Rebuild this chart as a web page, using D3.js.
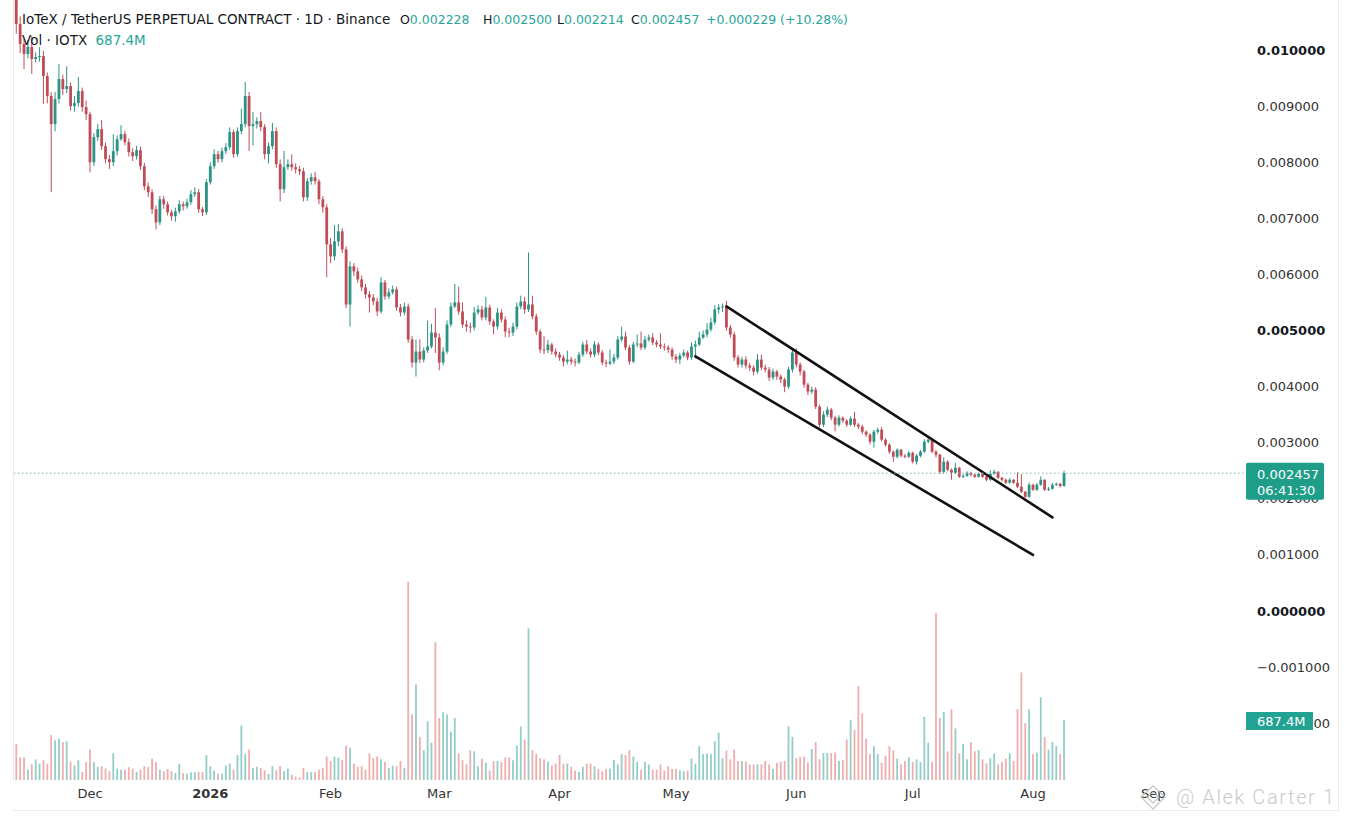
<!DOCTYPE html>
<html>
<head>
<meta charset="utf-8">
<script src="https://cdn.jsdelivr.net/npm/d3@7"></script>
<style>
  html, body {margin:0; padding:0; background:#fff;}
  svg {display:block; font-family:"DejaVu Sans", sans-serif;}
</style>
</head>
<body>
<svg width="1351" height="823"></svg>
<script>
"use strict";

//daily candles starting 2025-11-12, prices in millionths of a USDT
const firstDay = Date.UTC(2025, 10, 12);
const firstOpen = 11100;

const closes = [
  10464,10107,9929,10054,9839,9875,9893,9536,9179,8679,
  9125,9482,9304,9357,9000,9054,9268,8982,8857,8000,
  8446,8589,8286,8054,8000,8196,8411,8500,8357,8179,
  8107,8214,7929,7571,7464,7161,6929,7339,7250,7107,
  7036,7125,7250,7214,7286,7429,7464,7161,7107,7643,
  7929,8143,8054,8196,8268,8536,8143,8554,8679,9179,
  8643,8679,8732,8625,8143,8286,8554,7964,7518,7911,
  7964,7911,7875,7839,7375,7661,7732,7661,7339,7196,
  6536,6321,6589,6768,6446,5464,6143,6054,5911,5768,
  5643,5589,5518,5339,5857,5607,5679,5732,5411,5321,
  5429,4839,4429,4625,4482,4643,4714,4964,4875,4429,
  4625,5107,5429,5500,5339,5107,5071,5054,5321,5375,
  5232,5411,5161,5071,5321,5196,4982,4964,5071,5429,
  5518,5375,5464,5250,4982,4661,4650,4750,4625,4571,
  4518,4446,4482,4446,4429,4571,4750,4625,4571,4750,
  4607,4429,4411,4446,4518,4839,4893,4696,4446,4750,
  4768,4696,4839,4875,4786,4750,4714,4696,4661,4536,
  4482,4554,4607,4518,4714,4750,4875,4929,5018,5143,
  5375,5411,5429,5054,4929,4518,4393,4482,4375,4339,
  4268,4482,4339,4304,4161,4268,4179,4125,4000,4304,
  4607,4393,4268,4036,3911,3946,3643,3321,3500,3589,
  3446,3321,3446,3393,3321,3429,3321,3286,3196,3143,
  3018,3196,3232,3054,2964,2839,2750,2875,2768,2750,
  2821,2661,2768,2839,3018,3054,2839,2786,2482,2661,
  2518,2464,2554,2393,2411,2464,2429,2393,2446,2393,
  2339,2446,2482,2375,2339,2286,2339,2286,2214,2125,
  2036,2250,2161,2250,2339,2161,2179,2250,2268,2228,
  2457
];

const highs = [
  11300,10600,10200,10180,10250,9960,10050,9980,9600,9250,
  9250,9750,9560,9710,9420,9180,9520,9330,9100,8900,
  8520,8680,8750,8350,8130,8500,8480,8660,8560,8420,
  8250,8290,8280,7990,7640,7520,7230,7400,7400,7300,
  7150,7190,7320,7300,7350,7500,7550,7520,7200,7700,
  8000,8230,8200,8260,8340,8620,8580,8620,8950,9430,
  9250,8890,8800,8890,8680,8350,8700,8620,8050,8200,
  8050,8140,7980,7930,7900,7720,7800,7830,7700,7400,
  7250,6650,6880,6900,6820,6500,6230,6200,6120,5980,
  5830,5700,5650,5580,5950,5900,5750,5800,5780,5470,
  5500,5480,4900,4840,4840,4700,5180,5120,5400,4950,
  4700,5180,5500,5830,5780,5500,5180,5140,5420,5450,
  5440,5600,5460,5200,5400,5380,5250,5050,5140,5500,
  5620,5600,6390,5620,5300,5020,4900,4830,4780,4680,
  4620,4560,4640,4530,4500,4620,4800,4830,4680,4810,
  4790,4650,4480,4660,4580,4900,5070,4980,4740,4800,
  4930,4980,4900,4930,4950,4830,4950,4770,4740,4700,
  4580,4600,4660,4640,4790,4820,4980,5000,5130,5230,
  5450,5470,5480,5530,5100,4980,4560,4530,4540,4420,
  4380,4580,4570,4390,4350,4320,4300,4220,4160,4350,
  4680,4680,4430,4300,4070,4000,3990,3680,3560,3640,
  3620,3480,3490,3470,3420,3470,3550,3350,3320,3220,
  3170,3230,3270,3280,3080,2990,2860,2900,2890,2800,
  2850,2840,2800,2870,3060,3110,3070,2870,2800,2740,
  2690,2540,2640,2570,2440,2490,2480,2450,2470,2460,
  2410,2510,2520,2490,2390,2360,2370,2350,2470,2440,
  2140,2290,2270,2280,2400,2350,2210,2280,2290,2285,
  2500
];

const lows = [
  10290,9950,9660,9850,9570,9780,9790,9040,9050,7465,
  8550,9050,9200,9230,8920,8900,8990,8900,8750,7820,
  7930,8380,8220,7980,7880,7930,8120,8380,8300,8100,
  8020,8050,7860,7500,7380,7080,6800,6880,7170,7050,
  6960,6940,7080,7140,7170,7240,7380,7100,7040,7060,
  7600,7880,7990,8000,8150,8220,8080,8100,8500,8620,
  8200,8300,8600,8550,8050,7980,8230,7900,7300,7450,
  7860,7850,7800,7770,7300,7310,7600,7600,7250,7100,
  5950,6200,6250,6500,6380,5400,5070,5970,5850,5700,
  5570,5320,5450,5260,5300,5550,5560,5640,5350,5250,
  5270,4780,4340,4180,4420,4430,4600,4680,4600,4290,
  4380,4580,5060,5400,5280,5050,4980,4960,5000,5280,
  5180,5180,5100,4930,5020,5140,4880,4880,4900,5020,
  5380,5300,5330,5200,4920,4600,4580,4600,4570,4520,
  4460,4360,4400,4390,4360,4400,4530,4580,4520,4530,
  4560,4380,4350,4380,4400,4480,4800,4650,4390,4420,
  4700,4650,4660,4800,4740,4700,4670,4640,4600,4480,
  4420,4400,4520,4470,4480,4500,4720,4850,4880,4980,
  5100,5300,5330,5000,4870,4460,4340,4340,4320,4280,
  4200,4230,4290,4250,4100,4120,4120,4060,3900,3960,
  4250,4340,4200,3980,3850,3870,3600,3270,3280,3460,
  3400,3200,3290,3350,3280,3300,3280,3240,3150,3100,
  2970,2910,3160,3020,2930,2800,2660,2720,2740,2720,
  2730,2630,2610,2740,2820,2990,2810,2740,2440,2450,
  2490,2340,2440,2370,2370,2390,2400,2370,2380,2370,
  2310,2320,2430,2350,2310,2260,2270,2260,2190,2100,
  2010,2020,2140,2140,2230,2140,2140,2160,2230,2200,
  2214
];

//volume in millions of IOTX
const volumes = [
  415,258,258,119,179,237,187,226,187,514,
  455,474,435,443,210,166,226,92,206,348,
  206,151,159,131,100,308,131,119,119,147,
  131,92,119,159,151,245,206,116,100,127,
  100,80,187,80,72,88,88,92,92,285,
  159,108,72,72,166,187,119,285,624,297,
  348,139,151,139,111,68,159,111,159,100,
  131,60,40,30,139,92,92,92,119,139,
  269,218,269,258,230,395,368,187,151,159,
  119,305,250,269,237,206,139,166,159,218,
  139,2270,751,1094,494,344,672,427,1579,711,
  778,751,553,711,305,226,179,344,329,159,
  245,198,108,218,218,206,258,258,226,395,
  613,463,1737,344,300,250,237,210,166,187,
  289,187,190,151,108,92,151,187,187,159,
  127,100,127,131,230,179,297,285,344,269,
  206,119,210,179,119,119,179,108,159,127,
  127,108,100,108,245,187,388,297,305,297,
  443,542,250,337,237,348,218,218,210,179,
  179,179,179,218,179,127,198,210,218,613,
  494,250,265,269,198,355,435,237,308,308,
  308,315,218,230,463,684,573,1078,763,474,
  297,388,297,198,277,388,337,245,179,218,
  258,206,237,206,723,427,206,1915,711,778,
  329,810,592,305,415,237,435,329,344,237,
  190,250,305,179,206,245,305,218,810,1232,
  652,810,297,315,948,494,348,435,388,297,
  687.4
];

//axis labels
const monthDates = ["2025-12-01","2026-01-01","2026-02-01","2026-03-01","2026-04-01","2026-05-01","2026-06-01","2026-07-01","2026-08-01","2026-09-01"];
const monthLabels = ["Dec","2026","Feb","Mar","Apr","May","Jun","Jul","Aug","Sep"];
const priceTicks = [0.010,0.009,0.008,0.007,0.006,0.005,0.004,0.003,0.002,0.001,0,-0.001,-0.002];
const boldTicks = [0.010,0.005,0];

//hand drawn descending channel [date, price]
const channelUpper = [["2026-05-14",0.00543],["2026-08-06",0.00167]];
const channelLower = [["2026-05-06",0.00454],["2026-08-01",0.00100]];

const countdown = "06:41:30";

//colours
const upColor = "#2a9383", downColor = "#bf4d58";
const upVol = "#93cdc7", downVol = "#eeaeae";
const teal = "#26a69a";

var svg = d3.select("svg");
var fmt = d3.format(".6f");

var bars = closes.map(function(c, i) {
    return {
        date: d3.utcDay.offset(new Date(firstDay), i),
        open: (i ? closes[i - 1] : firstOpen) / 1e6,
        high: highs[i] / 1e6,
        low: lows[i] / 1e6,
        close: c / 1e6,
        vol: volumes[i]
    };
});
var last = bars[bars.length - 1];

//scales
var x = d3.scaleUtc()
    .domain([new Date("2025-12-01"), new Date("2026-08-01")])
    .range([90, 1033]);
var y = d3.scaleLinear().domain([0, 0.010]).range([611, 50]);
var yVol = d3.scaleLinear().domain([0, 687.4]).range([780, 720]);

//frame lines
svg.append("line").attr("x1", 13.5).attr("x2", 13.5).attr("y1", 0).attr("y2", 780)
    .attr("stroke", "#e8e8e8");
svg.append("line").attr("x1", 1338.5).attr("x2", 1338.5).attr("y1", 0).attr("y2", 811)
    .attr("stroke", "#ececec");
svg.append("line").attr("x1", 13).attr("x2", 1338).attr("y1", 810.5).attr("y2", 810.5)
    .attr("stroke", "#ececec");

svg.append("clipPath").attr("id", "plot")
    .append("rect").attr("x", 14).attr("y", 0).attr("width", 1226).attr("height", 781);

var plot = svg.append("g").attr("clip-path", "url(#plot)");

//volume bars
plot.append("g").selectAll("rect").data(bars).join("rect")
    .attr("x", d => x(d.date) - 0.9)
    .attr("width", 1.8)
    .attr("y", d => yVol(d.vol))
    .attr("height", d => yVol(0) - yVol(d.vol))
    .attr("fill", d => d.close >= d.open ? upVol : downVol);

//candles
var candle = plot.append("g").selectAll("g").data(bars).join("g");
candle.append("line")
    .attr("x1", d => x(d.date)).attr("x2", d => x(d.date))
    .attr("y1", d => y(d.high)).attr("y2", d => y(d.low))
    .attr("stroke", d => d.close >= d.open ? upColor : downColor)
    .attr("stroke-width", 1);
candle.append("rect")
    .attr("x", d => x(d.date) - 1.4)
    .attr("width", 2.8)
    .attr("y", d => y(Math.max(d.open, d.close)))
    .attr("height", d => Math.max(1, Math.abs(y(d.open) - y(d.close))))
    .attr("fill", d => d.close >= d.open ? upColor : downColor);

//channel lines
[channelUpper, channelLower].forEach(function(pts) {
    plot.append("line")
        .attr("x1", x(new Date(pts[0][0]))).attr("y1", y(pts[0][1]))
        .attr("x2", x(new Date(pts[1][0]))).attr("y2", y(pts[1][1]))
        .attr("stroke", "#111").attr("stroke-width", 2.6).attr("stroke-linecap", "round");
});

//last price dotted line
svg.append("line")
    .attr("x1", 14).attr("x2", 1246)
    .attr("y1", y(last.close)).attr("y2", y(last.close))
    .attr("stroke", "#7fb8b0").attr("stroke-width", 1).attr("stroke-dasharray", "1.5,2.5");

//price axis on the right
svg.append("g").selectAll("text").data(priceTicks).join("text")
    .attr("x", 1257)
    .attr("y", d => y(d) + 4.5)
    .attr("font-size", 13)
    .attr("font-weight", d => boldTicks.includes(d) ? "bold" : "normal")
    .attr("fill", d => boldTicks.includes(d) ? "#131722" : "#333")
    .text(d => fmt(d));

//time axis
svg.append("g").selectAll("text").data(monthDates).join("text")
    .attr("x", d => x(new Date(d)))
    .attr("y", 798)
    .attr("text-anchor", "middle")
    .attr("font-size", 13)
    .attr("font-weight", (d, i) => monthLabels[i] == "2026" ? "bold" : "normal")
    .attr("fill", "#333")
    .text((d, i) => monthLabels[i]);

//last price tag
var ly = y(last.close);
svg.append("rect").attr("x", 1246).attr("y", ly - 10.5).attr("width", 78).attr("height", 37)
    .attr("rx", 2).attr("fill", "#1e9e89");
svg.append("text").attr("x", 1257).attr("y", ly + 6).attr("font-size", 13).attr("fill", "#fff")
    .text(fmt(last.close));
svg.append("text").attr("x", 1257).attr("y", ly + 22).attr("font-size", 13).attr("fill", "#fff")
    .text(countdown);

//volume tag
var vy = yVol(last.vol);
svg.append("rect").attr("x", 1246).attr("y", vy - 8).attr("width", 67).attr("height", 18)
    .attr("fill", "#22a293");
svg.append("text").attr("x", 1257).attr("y", vy + 6).attr("font-size", 13).attr("fill", "#fff")
    .text(last.vol + "M");

//legend
var legend = svg.append("g").attr("font-size", 12.5).attr("fill", "#131722");
legend.append("text").attr("x", 22).attr("y", 24).attr("font-size", 13.5)
    .text("IoTeX / TetherUS PERPETUAL CONTRACT · 1D · Binance");

var change = last.close - last.open;
var ohlc = [
    ["O", fmt(last.open), 400],
    ["H", fmt(last.high), 483],
    ["L", fmt(last.low), 557],
    ["C", fmt(last.close), 631],
    ["", "+" + fmt(change) + " (+" + (change / last.open * 100).toFixed(2) + "%)", 706]
];
ohlc.forEach(function(o) {
    var t = legend.append("text").attr("x", o[2]).attr("y", 24);
    t.append("tspan").text(o[0]);
    t.append("tspan").attr("fill", teal).text(o[1]);
});

var vl = legend.append("text").attr("x", 22).attr("y", 45).attr("font-size", 13.5);
vl.append("tspan").text("Vol · IOTX ");
vl.append("tspan").attr("fill", teal).attr("dx", 4).text(last.vol + "M");

//watermark
var wm = svg.append("g").attr("opacity", 0.8);
wm.append("path")
    .attr("d", "M1153,786 L1165,797 L1153,809 L1141,797 Z M1153,792 L1159,797 L1153,803 L1147,797 Z")
    .attr("fill", "none").attr("stroke", "#bbb").attr("stroke-width", 1.3);
wm.append("text").attr("x", 1176).attr("y", 804).attr("font-family", "Roboto, sans-serif")
    .attr("font-size", 20).attr("font-weight", 300).attr("letter-spacing", 1.6)
    .attr("fill", "#bdbdbd").text("@ Alek Carter 1");
</script>
</body>
</html>
